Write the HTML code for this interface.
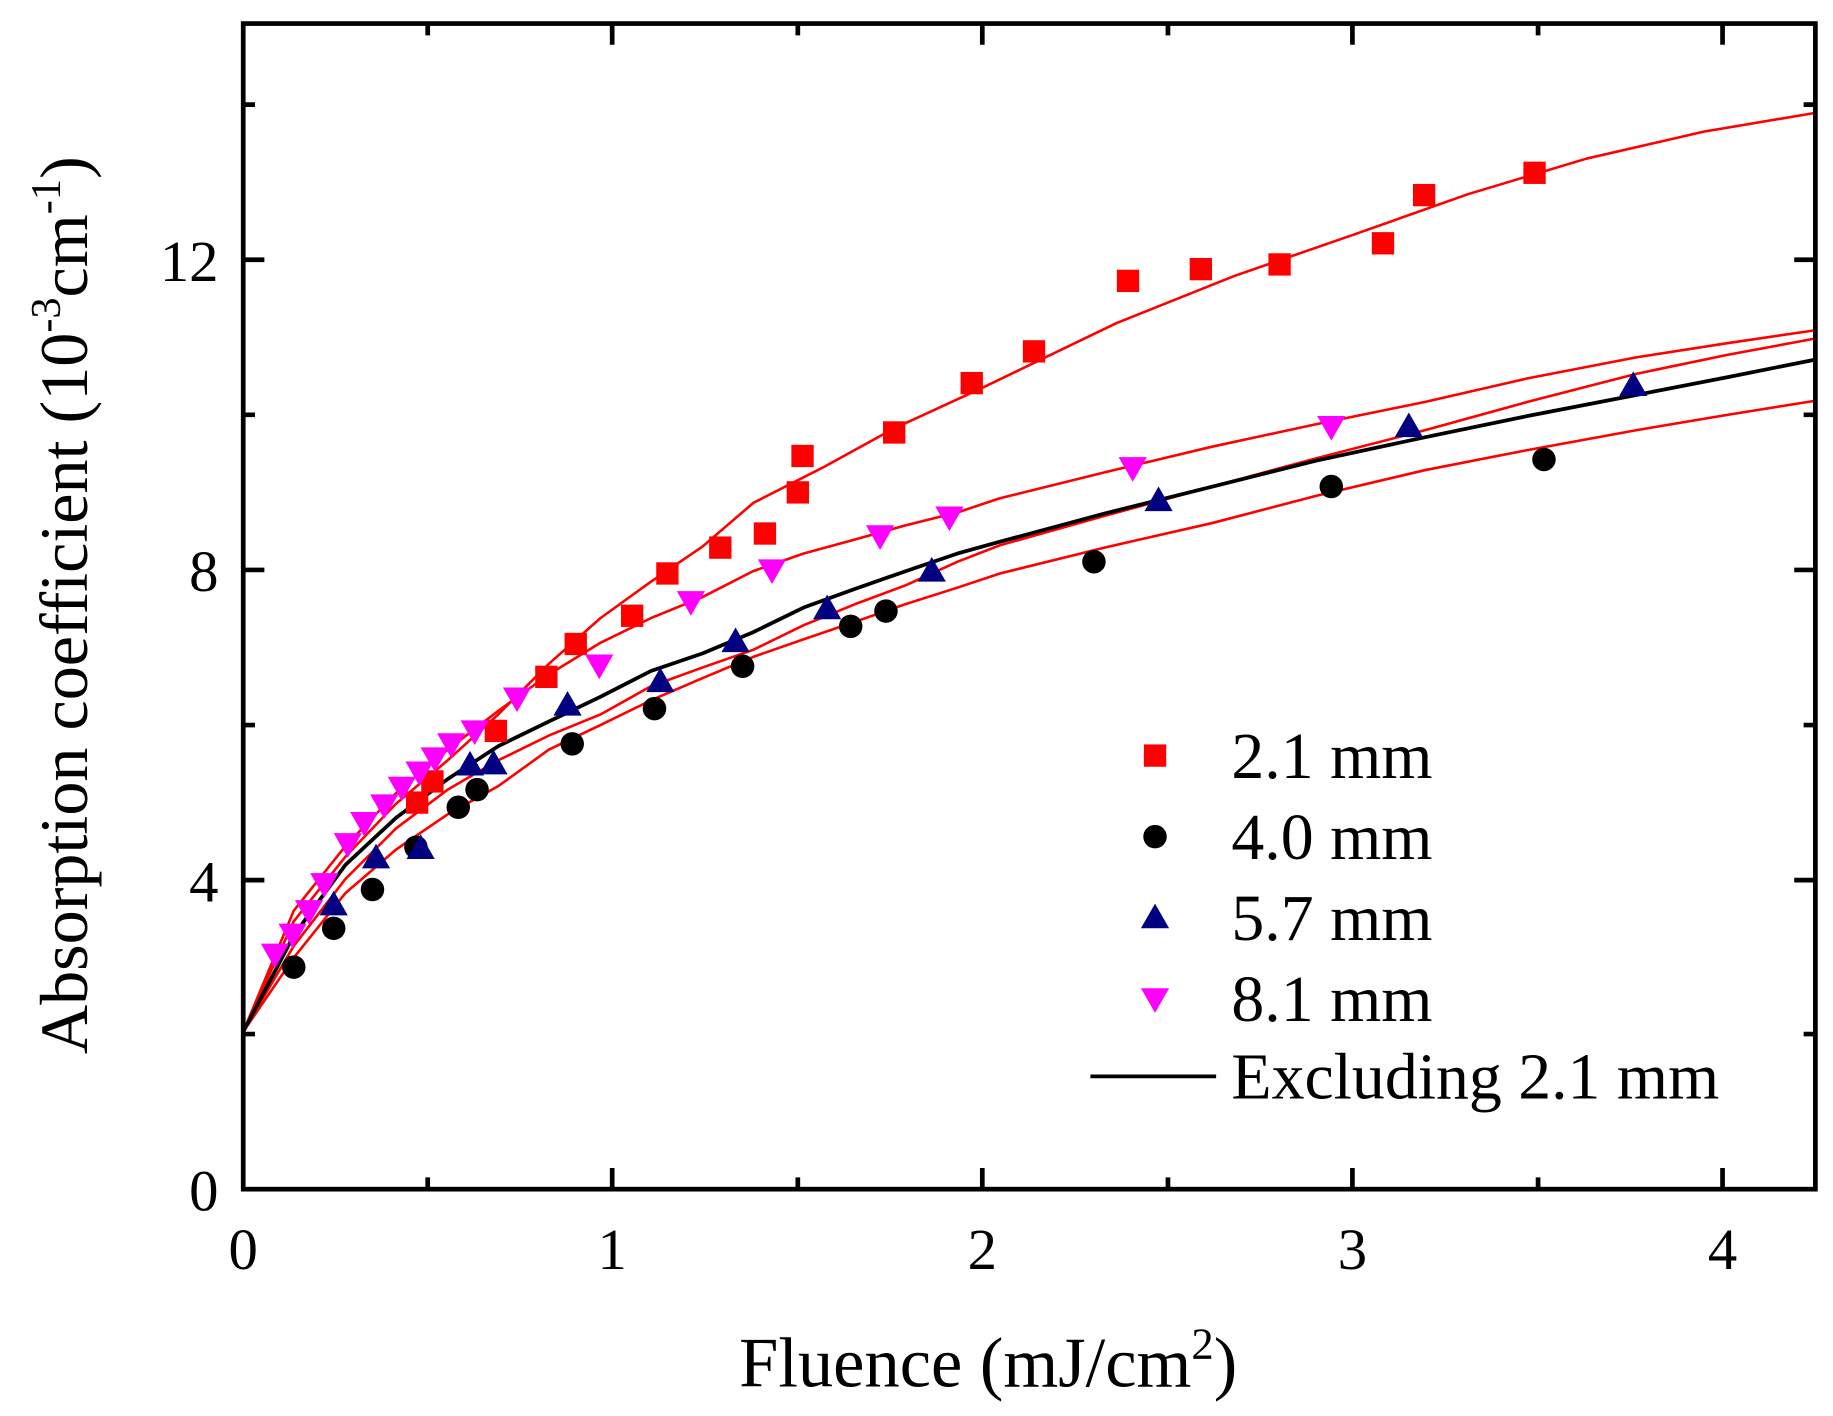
<!DOCTYPE html>
<html><head><meta charset="utf-8"><style>html,body{margin:0;padding:0;background:#fff}svg{display:block}</style></head>
<body>
<svg width="1833" height="1416" viewBox="0 0 1560 1205" xmlns="http://www.w3.org/2000/svg" font-family="'Liberation Serif', serif">
<defs>
<rect id="sq" x="-9.5" y="-9.5" width="19" height="19" fill="#ff0000"/>
<circle id="ci" r="10" fill="#000"/>
<polygon id="tu" points="0,-12 12,9 -12,9" fill="#000080"/>
<polygon id="td" points="0,12 12,-9 -12,-9" fill="#ff00ff"/>
</defs>
<g fill="none" stroke-linejoin="round">
<polyline stroke="#ff0000" stroke-width="2.2" points="207,878 250,784 294,729 337,684 381,647 424,608 467,565 511,526 554,495 598,465 641,428 700,398 760,365 836,330 950,275 1050,235 1151,200 1250,165 1350,135 1450,112 1545,96"/>
<polyline stroke="#ff0000" stroke-width="2.2" points="207,878 250,775 294,720 337,675 381,638 424,605 467,574 511,547 554,526 598,508 641,486 684,471 728,459 771,447 815,436 851,424 940,402 1032,380 1120,361 1213,342 1300,322 1393,304 1470,292 1545,281"/>
<polyline stroke="#ff0000" stroke-width="2.2" points="207,878 250,805 294,748 337,705 381,672 424,647 467,626 511,608 554,584 598,568 641,553 684,532 728,514 771,498 815,478 851,464 940,439 1032,414 1120,390 1213,366 1300,342 1393,318 1470,302 1545,288"/>
<polyline stroke="#ff0000" stroke-width="2.2" points="207,878 250,815 294,760 337,723 381,693 424,669 467,638 511,617 554,596 598,577 641,559 684,544 728,529 771,514 815,500 851,488 940,466 1032,445 1120,422 1213,400 1300,383 1393,366 1470,353 1545,341"/>
<polyline stroke="#000" stroke-width="3.2" points="207,878 250,796 294,736 337,696 381,663 424,635 467,614 511,593 554,571 598,556 641,538 684,517 728,501 771,486 815,471 851,461 940,437 1032,414 1120,392 1213,372 1300,354 1393,336 1470,321 1545,306"/>
</g>
<g>
<use href="#sq" x="355" y="683"/><use href="#sq" x="368" y="665"/><use href="#sq" x="422" y="622"/><use href="#sq" x="465" y="576"/><use href="#sq" x="490" y="548"/><use href="#sq" x="538" y="524"/><use href="#sq" x="568" y="488"/><use href="#sq" x="613" y="466"/><use href="#sq" x="651" y="454"/><use href="#sq" x="679" y="419"/><use href="#sq" x="683" y="388"/><use href="#sq" x="761" y="368"/><use href="#sq" x="827" y="326"/><use href="#sq" x="880" y="299"/><use href="#sq" x="960" y="239"/><use href="#sq" x="1022" y="229"/><use href="#sq" x="1089" y="225"/><use href="#sq" x="1177" y="207"/><use href="#sq" x="1212" y="166"/><use href="#sq" x="1306" y="147"/>
<use href="#ci" x="250" y="823"/><use href="#ci" x="284" y="790"/><use href="#ci" x="317" y="757"/><use href="#ci" x="354" y="721"/><use href="#ci" x="390" y="687"/><use href="#ci" x="406" y="672"/><use href="#ci" x="487" y="633"/><use href="#ci" x="557" y="603"/><use href="#ci" x="632" y="567"/><use href="#ci" x="724" y="533"/><use href="#ci" x="754" y="520"/><use href="#ci" x="931" y="478"/><use href="#ci" x="1133" y="414"/><use href="#ci" x="1314" y="391"/>
<use href="#tu" x="284" y="770"/><use href="#tu" x="320" y="730"/><use href="#tu" x="358" y="722"/><use href="#tu" x="400" y="651"/><use href="#tu" x="420" y="650"/><use href="#tu" x="483" y="600"/><use href="#tu" x="562" y="580"/><use href="#tu" x="626" y="546"/><use href="#tu" x="704" y="518"/><use href="#tu" x="793" y="486"/><use href="#tu" x="986" y="426"/><use href="#tu" x="1199" y="363"/><use href="#tu" x="1390" y="328"/>
<use href="#td" x="234" y="812"/><use href="#td" x="249" y="795"/><use href="#td" x="263" y="775"/><use href="#td" x="276" y="752"/><use href="#td" x="296" y="718"/><use href="#td" x="310" y="700"/><use href="#td" x="327" y="685"/><use href="#td" x="342" y="670"/><use href="#td" x="357" y="657"/><use href="#td" x="370" y="645"/><use href="#td" x="384" y="633"/><use href="#td" x="404" y="622"/><use href="#td" x="440" y="594"/><use href="#td" x="510" y="566"/><use href="#td" x="588" y="512"/><use href="#td" x="657" y="485"/><use href="#td" x="749" y="456"/><use href="#td" x="808" y="440"/><use href="#td" x="964" y="398"/><use href="#td" x="1133" y="363"/>
</g>
<rect x="207" y="20" width="1338" height="992" fill="none" stroke="#000" stroke-width="4"/>
<g stroke="#000" stroke-width="4">
<path d="M521,1012v-18M836,1012v-18M1151,1012v-18M1466,1012v-18M364,1012v-10M679,1012v-10M994,1012v-10M1309,1012v-10"/>
<path d="M521,20v18M836,20v18M1151,20v18M1466,20v18M364,20v10M679,20v10M994,20v10M1309,20v10"/>
<path d="M207,749h18M207,485h18M207,221h18M207,880h10M207,617h10M207,353h10M207,89h10"/>
<path d="M1545,749h-18M1545,485h-18M1545,221h-18M1545,880h-10M1545,617h-10M1545,353h-10M1545,89h-10"/>
</g>
<g font-size="50" fill="#000">
<g text-anchor="end"><text x="186" y="1030">0</text><text x="186" y="767">4</text><text x="186" y="503">8</text><text x="186" y="239">12</text></g>
<g text-anchor="middle"><text x="207" y="1080">0</text><text x="521" y="1080">1</text><text x="836" y="1080">2</text><text x="1151" y="1080">3</text><text x="1466" y="1080">4</text></g>
<text x="841" y="1180" text-anchor="middle" font-size="60">Fluence (mJ/cm<tspan font-size="38" dy="-24">2</tspan><tspan dy="24">)</tspan></text>
<text transform="translate(74,515) rotate(-90)" text-anchor="middle" font-size="58">Absorption coefficient (10<tspan font-size="36" dy="-23">-3</tspan><tspan dy="23">cm</tspan><tspan font-size="36" dy="-23">-1</tspan><tspan dy="23">)</tspan></text>
<g font-size="56"><text x="1048" y="662">2.1 mm</text><text x="1048" y="731">4.0 mm</text><text x="1048" y="800">5.7 mm</text><text x="1048" y="869">8.1 mm</text><text x="1048" y="935">Excluding 2.1 mm</text></g>
</g>
<use href="#sq" x="983" y="643"/><use href="#ci" x="983" y="712"/><use href="#tu" x="983" y="781"/><use href="#td" x="983" y="850"/>
<line x1="928" y1="916" x2="1035" y2="916" stroke="#000" stroke-width="3.2"/>
</svg>
</body></html>
